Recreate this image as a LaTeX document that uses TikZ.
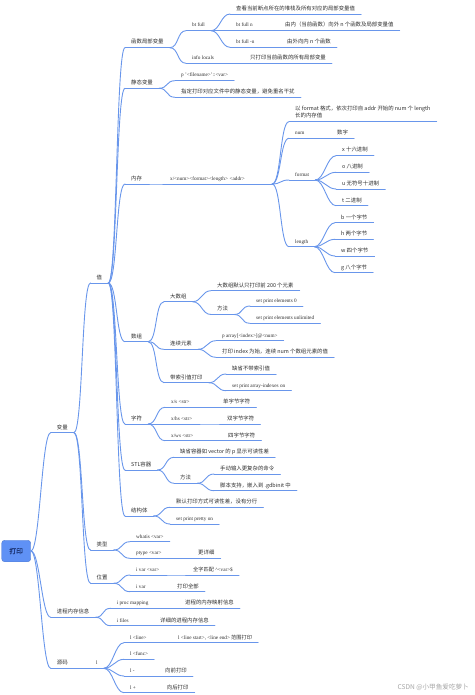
\documentclass[tikz,border=0pt]{standalone}
\usepackage{fontspec}
\setmainfont{Liberation Serif}
\newfontfamily\zhfont{Noto Sans CJK SC}
\newfontfamily\zhbold[FakeBold=1.6]{Noto Sans CJK SC}
\definecolor{wireblue}{RGB}{105,150,235}
\definecolor{rootblue}{RGB}{95,145,245}
\definecolor{rootink}{RGB}{30,55,120}
\definecolor{inkgray}{RGB}{45,45,45}
\tikzset{
	wire/.style={draw=wireblue, line width=0.9pt, line cap=round},
	branch/.style={wire, out=0, in=180, distance=9pt},
	topic/.style={anchor=south west, inner xsep=6pt, inner ysep=2.3pt, text height=4.6pt, text depth=1.2pt, text=inkgray,
		font=\zhfont\fontsize{5.4}{7.7}\selectfont,
		append after command={(\tikzlastnode.south west) edge[wire] (\tikzlastnode.south east)}},
	cmd/.style={topic, font=\fontsize{5.2}{7}\selectfont},
	rootbox/.style={rounded corners=3pt, fill=rootblue, draw=rootblue!85!black, line width=0.4pt, minimum width=29pt, minimum height=21.5pt,
		inner sep=0pt, text=rootink, font=\zhbold\fontsize{6.8}{8}\selectfont},
	stamp/.style={anchor=east, inner sep=0pt, text=black!35, font=\zhfont\fontsize{6.6}{8}\selectfont}
}
\begin{document}
\begin{tikzpicture}[x=1pt,y=-1pt]
		\useasboundingbox (0,0) rectangle (474,695);

		\node[rootbox] (root) at (16.2,551) {打印};

		\node[topic] (var) at (50.7,432.7) {变量};
		\node[topic] (proc) at (50.7,617.3) {进程内存信息};
		\node[topic] (src) at (50.7,668.3) {源码};

		\node[topic] (val) at (90.5,283) {值};
		\node[topic] (type) at (90.5,550) {类型};
		\node[topic] (pos) at (90.5,583.3) {位置};

		\node[topic] (fjbl) at (125,47.7) {函数局部变量};
		\node[topic] (jtbl) at (125,88.3) {静态变量};
		\node[topic] (mem) at (125,184) {内存};
		\node[topic] (arr) at (125,341.7) {数组};
		\node[topic] (chr) at (125,424) {字符};
		\node[topic] (stl) at (125,470) {STL容器};
		\node[topic] (st) at (125,516) {结构体};

		\node[cmd] (btf) at (186,30.7) {bt full};
		\node[cmd] (infol) at (186,63.3) {info locals};
		\node[topic] (btfa) at (230,14) {查看当前断点所在的堆栈及所有对应的局部变量值};
		\node[cmd] (btfn) at (230,30.7) {bt full n};
		\node[cmd] (btfm) at (230,47.3) {bt full -n};
		\node[topic] (btfnd) at (279,30.7) {由内（当前函数）向外 n 个函数及局部变量值};
		\node[topic] (btfmd) at (281,47.3) {由外向内 n 个函数};
		\node[topic] (infold) at (244,63.3) {只打印当前函数的所有局部变量};

		\node[cmd] (jtbla) at (175,80.7) {p '<filename>'::<var>};
		\node[topic] (jtblb) at (175,97.3) {指定打印对应文件中的静态变量，避免重名干扰};

		\node[cmd, text width=95.7pt] (xmem) at (164,184) {x/<num><format><length> <addr>};
		\node[topic, align=left] (xdesc) at (289,121.7) {以 format 格式，依次打印自 addr 开始的 num 个 length\\长的内存值};
		\node[cmd] (num) at (289,138.3) {num};
		\node[topic] (numd) at (331,138.3) {数字};
		\node[cmd] (fmt) at (289,180) {format};
		\node[cmd] (len) at (289,246.7) {length};
		\node[topic] (fx) at (336,155.7) {x 十六进制};
		\node[topic] (fo) at (336,172.3) {o 八进制};
		\node[topic] (fu) at (336,189) {u 无符号十进制};
		\node[topic] (ft) at (336,205.7) {t 二进制};
		\node[topic] (lenb) at (335,222.7) {b 一个字节};
		\node[topic] (lenh) at (335,239.3) {h 两个字节};
		\node[topic] (lenw) at (335,256) {w 四个字节};
		\node[topic] (leng) at (335,272.7) {g 八个字节};

		\node[topic] (big) at (164,301.7) {大数组};
		\node[topic] (cont) at (164,349.3) {连续元素};
		\node[topic] (idx) at (164,382.7) {带索引值打印};
		\node[topic] (biga) at (211,290.7) {大数组默认只打印前 200 个元素};
		\node[topic] (bigm) at (211,314.5) {方法};
		\node[cmd] (bigm0) at (250,306) {set print elements 0};
		\node[cmd] (bigmu) at (250,323.3) {set print elements unlimited};
		\node[cmd] (conta) at (216,340.7) {p array[<index>]@<num>};
		\node[topic] (contb) at (216,357.3) {打印 index 为始，连续 num 个数组元素的值};
		\node[topic] (idxa) at (226,374) {缺省不带索引值};
		\node[cmd] (idxb) at (226,390.7) {set print array-indexes on};

		\node[cmd] (xs) at (165,407.3) {x/s <str>};
		\node[cmd] (xhs) at (165,424) {x/hs <str>};
		\node[cmd] (xws) at (165,440.7) {x/ws <str>};
		\node[topic] (xsd) at (217,407.3) {单字节字符};
		\node[topic] (xhsd) at (221,424) {双字节字符};
		\node[topic] (xwsd) at (222,440.7) {四字节字符};

		\node[topic] (stla) at (174,457.3) {缺省容器如 vector 的 p 显示可读性差};
		\node[topic] (stlm) at (174,483.3) {方法};
		\node[topic] (stlm1) at (214,474) {手动输入更复杂的命令};
		\node[topic] (stlm2) at (214,490.7) {脚本支持，嵌入到 .gdbinit 中};

		\node[topic] (sta) at (170,507.3) {默认打印方式可读性差，没有分行};
		\node[cmd] (stb) at (170,524) {set print pretty on};

		\node[cmd] (typea) at (130,541.7) {whatis <var>};
		\node[cmd] (typeb) at (130,558.3) {ptype <var>};
		\node[topic] (typebd) at (192,558.3) {更详细};
		\node[cmd] (posa) at (130,575) {i var <var>};
		\node[cmd] (posb) at (130,591.7) {i var};
		\node[cmd] (posad) at (187,575) {{\zhfont 全字匹配} \textasciicircum<var>\$};
		\node[topic] (posbd) at (171,591.7) {打印全部};

		\node[cmd] (proca) at (110.7,608.3) {i proc mapping};
		\node[cmd] (procb) at (110.7,625.7) {i files};
		\node[topic] (procad) at (179,608.3) {进程的内存映射信息};
		\node[topic] (procbd) at (154,625.7) {详细的进程内存信息};

		\node[cmd] (lnode) at (90,668.3) {l};
		\node[cmd] (lline) at (124,642.7) {l <line>};
		\node[cmd] (lfunc) at (124,659.3) {l <func>};
		\node[cmd] (lminus) at (124,676) {l -};
		\node[cmd] (lplus) at (124,692.7) {l +};
		\node[cmd] (lad) at (172,642.7) {l <line start>, <line end> {\zhfont 范围打印}};
		\node[topic] (lcd) at (159,676) {向前打印};
		\node[topic] (ldd) at (160.7,692.7) {向后打印};

		\node[stamp] (csdn) at (469,687.5) {CSDN @小甲鱼爱吃萝卜};

		\draw[branch] (root.east) to (var.south west);
		\draw[branch] (root.east) to (proc.south west);
		\draw[branch] (root.east) to (src.south west);
		\draw[branch] (var.south east) to (val.south west);
		\draw[branch] (var.south east) to (type.south west);
		\draw[branch] (var.south east) to (pos.south west);
		\draw[branch] (val.south east) to (fjbl.south west);
		\draw[branch] (val.south east) to (jtbl.south west);
		\draw[branch] (val.south east) to (mem.south west);
		\draw[branch] (val.south east) to (arr.south west);
		\draw[branch] (val.south east) to (chr.south west);
		\draw[branch] (val.south east) to (stl.south west);
		\draw[branch] (val.south east) to (st.south west);
		\draw[branch] (fjbl.south east) to (btf.south west);
		\draw[branch] (fjbl.south east) to (infol.south west);
		\draw[branch] (btf.south east) to (btfa.south west);
		\draw[branch] (btf.south east) to (btfn.south west);
		\draw[branch] (btf.south east) to (btfm.south west);
		\draw[branch] (btfn.south east) to (btfnd.south west);
		\draw[branch] (btfm.south east) to (btfmd.south west);
		\draw[branch] (infol.south east) to (infold.south west);
		\draw[branch] (jtbl.south east) to (jtbla.south west);
		\draw[branch] (jtbl.south east) to (jtblb.south west);
		\draw[branch] (mem.south east) to (xmem.south west);
		\draw[branch] (xmem.south east) to (xdesc.south west);
		\draw[branch] (xmem.south east) to (num.south west);
		\draw[branch] (xmem.south east) to (fmt.south west);
		\draw[branch] (xmem.south east) to (len.south west);
		\draw[branch] (num.south east) to (numd.south west);
		\draw[branch] (fmt.south east) to (fx.south west);
		\draw[branch] (fmt.south east) to (fo.south west);
		\draw[branch] (fmt.south east) to (fu.south west);
		\draw[branch] (fmt.south east) to (ft.south west);
		\draw[branch] (len.south east) to (lenb.south west);
		\draw[branch] (len.south east) to (lenh.south west);
		\draw[branch] (len.south east) to (lenw.south west);
		\draw[branch] (len.south east) to (leng.south west);
		\draw[branch] (arr.south east) to (big.south west);
		\draw[branch] (arr.south east) to (cont.south west);
		\draw[branch] (arr.south east) to (idx.south west);
		\draw[branch] (big.south east) to (biga.south west);
		\draw[branch] (big.south east) to (bigm.south west);
		\draw[branch] (bigm.south east) to (bigm0.south west);
		\draw[branch] (bigm.south east) to (bigmu.south west);
		\draw[branch] (cont.south east) to (conta.south west);
		\draw[branch] (cont.south east) to (contb.south west);
		\draw[branch] (idx.south east) to (idxa.south west);
		\draw[branch] (idx.south east) to (idxb.south west);
		\draw[branch] (chr.south east) to (xs.south west);
		\draw[branch] (chr.south east) to (xhs.south west);
		\draw[branch] (chr.south east) to (xws.south west);
		\draw[branch] (xs.south east) to (xsd.south west);
		\draw[branch] (xhs.south east) to (xhsd.south west);
		\draw[branch] (xws.south east) to (xwsd.south west);
		\draw[branch] (stl.south east) to (stla.south west);
		\draw[branch] (stl.south east) to (stlm.south west);
		\draw[branch] (stlm.south east) to (stlm1.south west);
		\draw[branch] (stlm.south east) to (stlm2.south west);
		\draw[branch] (st.south east) to (sta.south west);
		\draw[branch] (st.south east) to (stb.south west);
		\draw[branch] (type.south east) to (typea.south west);
		\draw[branch] (type.south east) to (typeb.south west);
		\draw[branch] (typeb.south east) to (typebd.south west);
		\draw[branch] (pos.south east) to (posa.south west);
		\draw[branch] (pos.south east) to (posb.south west);
		\draw[branch] (posa.south east) to (posad.south west);
		\draw[branch] (posb.south east) to (posbd.south west);
		\draw[branch] (proc.south east) to (proca.south west);
		\draw[branch] (proc.south east) to (procb.south west);
		\draw[branch] (proca.south east) to (procad.south west);
		\draw[branch] (procb.south east) to (procbd.south west);
		\draw[branch] (src.south east) to (lnode.south west);
		\draw[branch] (lnode.south east) to (lline.south west);
		\draw[branch] (lnode.south east) to (lfunc.south west);
		\draw[branch] (lnode.south east) to (lminus.south west);
		\draw[branch] (lnode.south east) to (lplus.south west);
		\draw[branch] (lline.south east) to (lad.south west);
		\draw[branch] (lminus.south east) to (lcd.south west);
		\draw[branch] (lplus.south east) to (ldd.south west);
	\end{tikzpicture}
\end{document}
